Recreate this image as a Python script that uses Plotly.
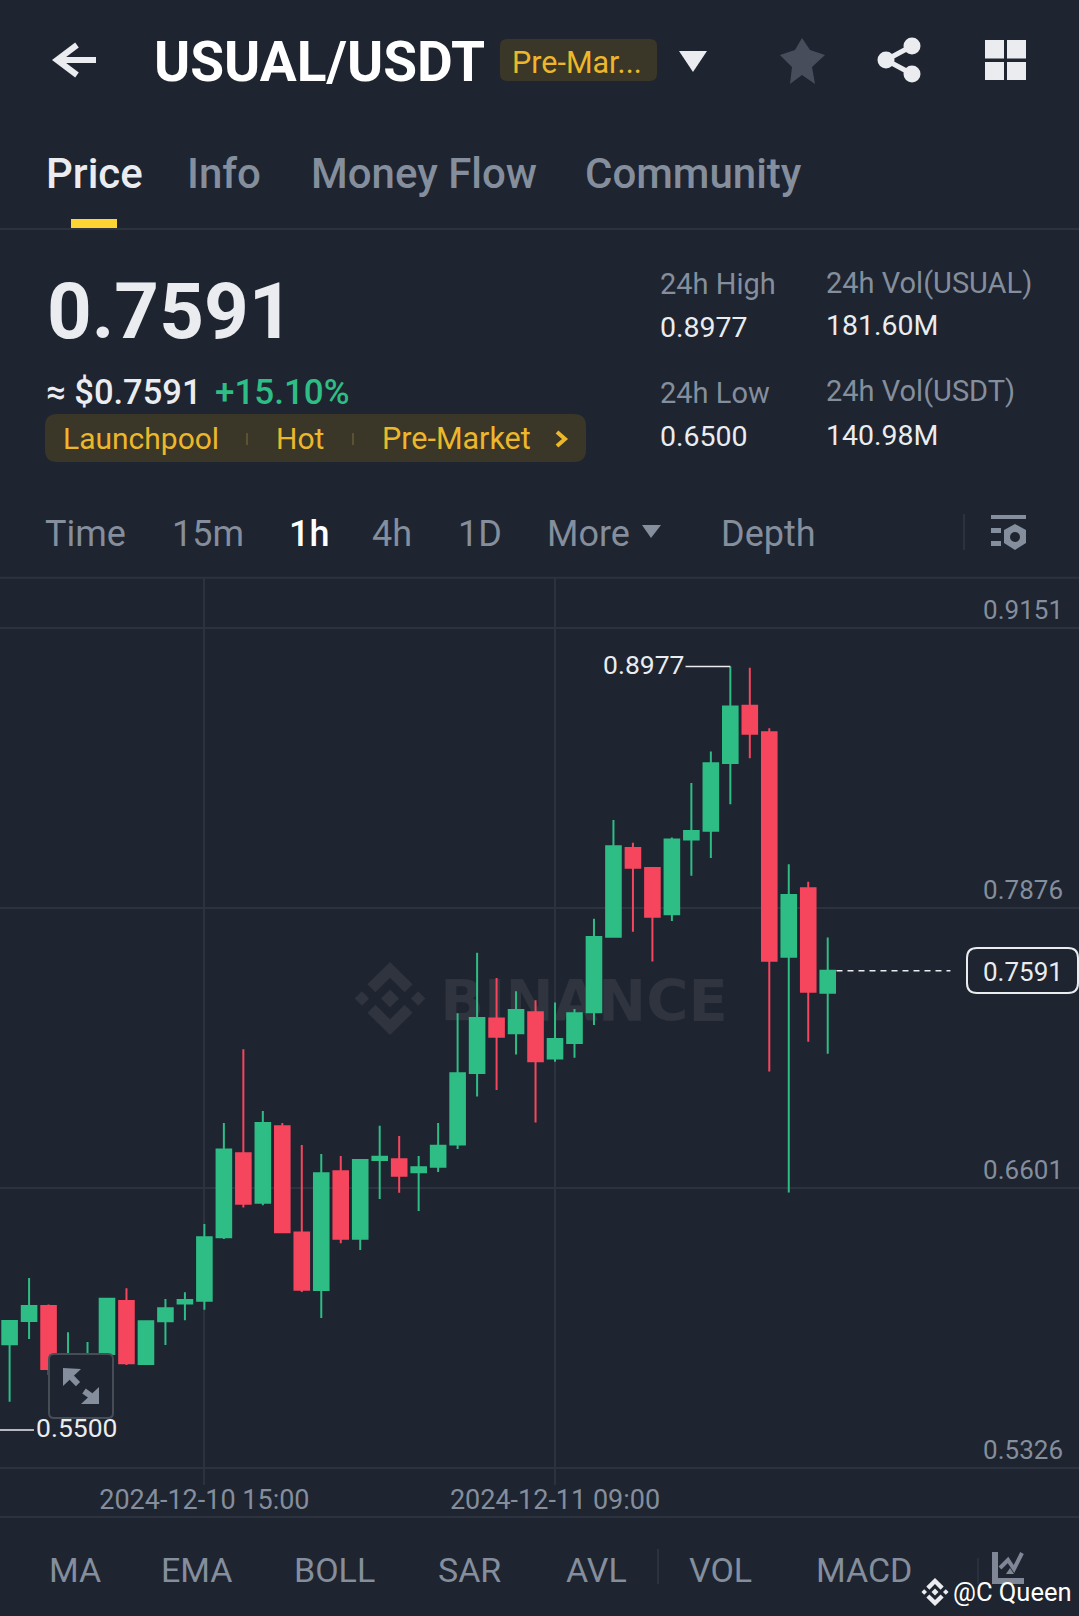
"""USUAL/USDT 1h candlestick screen."""

from datetime import datetime, timedelta

import plotly.graph_objects as go

W = 1079
H = 1616

BG = "#1E2430"
LINE = "#2D333E"
GREY = "#848E9C"
WHITE = "#EAECEF"
YELLOW = "#EDB72B"
TAG_BG = "#3A3628"
UP = "#2EBD85"
DOWN = "#F6465D"
FONT = "Roboto"

# hourly candles
first_candle = datetime(2024, 12, 10, 5, 0)
opens = [0.5891, 0.5997, 0.6065, 0.5778, 0.5783, 0.5846, 0.6088, 0.5801, 0.5995, 0.6076, 0.6089,
         0.6378, 0.6760, 0.6535, 0.6883, 0.6399, 0.6138, 0.6678, 0.6371, 0.6730, 0.6733, 0.6674,
         0.6699, 0.6800, 0.7126, 0.7374, 0.7307, 0.7402, 0.7192, 0.7263, 0.7402, 0.7746, 0.8150,
         0.8059, 0.7849, 0.8189, 0.8229, 0.8538, 0.8798, 0.8678, 0.7655, 0.7967, 0.7491]
highs = [0.6001, 0.6192, 0.6072, 0.5945, 0.5901, 0.6101, 0.6146, 0.6000, 0.6097, 0.6127, 0.6438,
         0.6898, 0.7234, 0.6953, 0.6898, 0.6798, 0.6757, 0.6748, 0.6730, 0.6886, 0.6839, 0.6748,
         0.6898, 0.7398, 0.7673, 0.7558, 0.7498, 0.7457, 0.7447, 0.7417, 0.7828, 0.8278, 0.8174,
         0.8059, 0.8198, 0.8447, 0.8590, 0.8977, 0.8971, 0.8696, 0.8076, 0.7997, 0.7743]
lows = [0.5629, 0.5915, 0.5751, 0.5660, 0.5705, 0.5835, 0.5796, 0.5798, 0.5887, 0.6000, 0.6048,
        0.6370, 0.6513, 0.6524, 0.6399, 0.6129, 0.6010, 0.6351, 0.6320, 0.6552, 0.6581, 0.6498,
        0.6675, 0.6780, 0.7019, 0.7049, 0.7210, 0.6901, 0.7177, 0.7195, 0.7345, 0.7745, 0.7769,
        0.7634, 0.7818, 0.8024, 0.8105, 0.8350, 0.8559, 0.7133, 0.6582, 0.7268, 0.7214]
closes = [0.5997, 0.6065, 0.5778, 0.5828, 0.5837, 0.6098, 0.5804, 0.5995, 0.6055, 0.6092, 0.6378,
          0.6778, 0.6531, 0.6898, 0.6401, 0.6139, 0.6669, 0.6371, 0.6730, 0.6745, 0.6658, 0.6697,
          0.6795, 0.7125, 0.7376, 0.7291, 0.7413, 0.7179, 0.7281, 0.7398, 0.7745, 0.8158, 0.8060,
          0.7837, 0.8189, 0.8228, 0.8537, 0.8795, 0.8671, 0.7637, 0.7936, 0.7496, 0.7591]

price_ticks = [0.9151, 0.7876, 0.6601, 0.5326]
price_range = [0.52497, 0.93814]
time_ticks = [datetime(2024, 12, 10, 15, 0), datetime(2024, 12, 11, 9, 0)]
time_range = [datetime(2024, 12, 10, 4, 30, 25), datetime(2024, 12, 12, 11, 54)]

high_price = 0.8977
low_price = 0.5500
last_price = 0.7591

dates = [first_candle + timedelta(hours=i) for i in range(len(opens))]

header_tabs = [("Price", 44, WHITE, 500), ("Info", 185, GREY, 500), ("Money Flow", 309, GREY, 500), ("Community", 583, GREY, 500)]
stat_labels = [("24h High", 658, 284), ("24h Low", 658, 393), ("24h Vol(USUAL)", 824, 283), ("24h Vol(USDT)", 824, 391)]
stat_values = [("0.8977", 658, 327), ("0.6500", 658, 437), ("181.60M", 824, 325), ("140.98M", 824, 435)]
periods = [("Time", 43, GREY), ("15m", 170, GREY), ("1h", 287, "#FFFFFF"), ("4h", 370, GREY), ("1D", 456, GREY), ("More", 545, GREY), ("Depth", 719, GREY)]
indicators = [("MA", 47), ("EMA", 159), ("BOLL", 292), ("SAR", 436), ("AVL", 564), ("VOL", 687), ("MACD", 814)]


def px(x):
    return x / W


def py(y):
    return 1 - y / H


annotations = []
shapes = []


def text(label, x, y, size, color=WHITE, weight=400, anchor="left"):
    annotations.append(dict(text=label, x=px(x), y=py(y), xref="paper", yref="paper", showarrow=False,
                            xanchor=anchor, yanchor="middle", align=anchor,
                            font=dict(family=FONT, size=size, color=color, weight=weight)))


def poly(points, fill=None, line=None, width=0, layer="above"):
    path = "M " + " L ".join(f"{px(x):.5f},{py(y):.5f}" for x, y in points)
    if fill:
        path += " Z"
    shapes.append(dict(type="path", path=path, xref="paper", yref="paper", layer=layer,
                       fillcolor=fill or "rgba(0,0,0,0)",
                       line=dict(color=line or "rgba(0,0,0,0)", width=width)))


def hline(x0, x1, y, color=LINE, width=2):
    shapes.append(dict(type="line", x0=px(x0), x1=px(x1), y0=py(y), y1=py(y), xref="paper", yref="paper",
                       line=dict(color=color, width=width)))


def vline(x, y0, y1, color=LINE, width=2):
    shapes.append(dict(type="line", x0=px(x), x1=px(x), y0=py(y0), y1=py(y1), xref="paper", yref="paper",
                       line=dict(color=color, width=width)))


def box(x0, y0, x1, y1, fill):
    shapes.append(dict(type="rect", x0=px(x0), x1=px(x1), y0=py(y0), y1=py(y1), xref="paper", yref="paper",
                       fillcolor=fill, line=dict(width=0)))


def dot(cx, cy, r, fill):
    shapes.append(dict(type="circle", x0=px(cx - r), x1=px(cx + r), y0=py(cy - r), y1=py(cy + r), xref="paper", yref="paper",
                       fillcolor=fill, line=dict(width=0)))


def round_box(x0, y0, x1, y1, r, fill, line=None, width=0):
    path = (f"M {px(x0 + r)},{py(y0)} L {px(x1 - r)},{py(y0)} Q {px(x1)},{py(y0)} {px(x1)},{py(y0 + r)} "
            f"L {px(x1)},{py(y1 - r)} Q {px(x1)},{py(y1)} {px(x1 - r)},{py(y1)} "
            f"L {px(x0 + r)},{py(y1)} Q {px(x0)},{py(y1)} {px(x0)},{py(y1 - r)} "
            f"L {px(x0)},{py(y0 + r)} Q {px(x0)},{py(y0)} {px(x0 + r)},{py(y0)} Z")
    shapes.append(dict(type="path", path=path, xref="paper", yref="paper", fillcolor=fill,
                       line=dict(color=line or "rgba(0,0,0,0)", width=width)))


def logo(cx, cy, r, color, layer="above"):
    # the diamond mark: centre, two sides, two chevrons
    for dx, k in [(0, 0.25), (-0.77, 0.2), (0.77, 0.2)]:
        mid = cx + dx * r
        poly([(mid, cy - k * r), (mid + k * r, cy), (mid, cy + k * r), (mid - k * r, cy)], fill=color, layer=layer)
    chevron = [(0, 1), (0.62, 0.39), (0.40, 0.17), (0, 0.57), (-0.40, 0.17), (-0.62, 0.39)]
    poly([(cx + a * r, cy - b * r) for a, b in chevron], fill=color, layer=layer)
    poly([(cx + a * r, cy + b * r) for a, b in chevron], fill=color, layer=layer)


# header
poly([(96, 60), (58, 60)], line=WHITE, width=6)
poly([(77, 45), (57, 60), (77, 75)], line=WHITE, width=6)
text("USUAL/USDT", 152, 62, 55, "#FFFFFF", 700)
round_box(500, 39, 657, 81, 7, TAG_BG)
text("Pre-Mar...", 510, 62, 30.5, YELLOW)
poly([(679, 51), (707, 51), (693, 72)], fill=WHITE)
poly([(802, 38), (810, 50), (825, 55), (812, 67), (815, 84), (802, 75), (790, 84), (792, 67), (780, 55), (795, 50)], fill="#474D5A")
poly([(912, 46), (886, 60), (912, 74)], line=WHITE, width=5)
dot(912, 46, 8.5, WHITE)
dot(886, 60, 8.5, WHITE)
dot(912, 74, 8.5, WHITE)
box(985, 40, 1004, 58.5, WHITE)
box(1007, 40, 1026, 58.5, WHITE)
box(985, 62, 1004, 80, WHITE)
box(1007, 62, 1026, 80, WHITE)

for label, x, color, weight in header_tabs:
    text(label, x, 174, 42, color, weight)
box(71, 219, 117, 228, "#FCD535")
hline(0, W, 229)

# price block
text("0.7591", 45, 311, 78, WHITE, 700)
text("≈ $0.7591", 44, 392, 34.5, WHITE, 500)
text("+15.10%", 213, 392, 35, UP, 500)
round_box(45, 414, 586, 462, 12, TAG_BG)
text("Launchpool", 61, 438, 30, YELLOW)
vline(247, 433, 445, "#5A5233")
text("Hot", 274, 438, 30, YELLOW)
vline(353, 433, 445, "#5A5233")
text("Pre-Market", 380, 438, 30.5, YELLOW)
poly([(557, 432), (565, 439), (557, 446)], line=YELLOW, width=4)
for label, x, y in stat_labels:
    text(label, x, y, 29, GREY)
for label, x, y in stat_values:
    text(label, x, y, 28.5, WHITE)

# period row
for label, x, color in periods:
    text(label, x, 534, 36, color, 500 if label == "1h" else 400)
poly([(642, 525), (661, 525), (651, 538)], fill=GREY)
vline(964, 514, 550)
box(991, 515, 1026, 519, GREY)
box(991, 528, 1001, 533, GREY)
box(991, 541, 1001, 546, GREY)
poly([(1015, 524), (1026, 530), (1026, 543), (1015, 550), (1004, 543), (1004, 530)], fill=GREY)
dot(1015, 537, 5, BG)

# chart frame
hline(0, W, 577.7)
hline(0, W, 1517)

# watermark sits under the candles
logo(390, 998.5, 36.5, "#2F343F", layer="below")
shapes.append(dict(type="rect", x0=px(443), x1=px(725), y0=py(977), y1=py(1017), xref="paper", yref="paper", layer="below",
                   fillcolor="rgba(0,0,0,0)", line=dict(width=0),
                   label=dict(text="BINANCE", textposition="middle center",
                              font=dict(family="DejaVu Sans", size=57.5, color="#2F343F", weight=700))))

# expand button
round_box(49, 1354, 113, 1418, 5, BG, line="#474D57", width=2)
poly([(63, 1368), (81, 1369), (63, 1386)], fill=GREY)
poly([(71, 1377), (78, 1384)], line=GREY, width=6)
poly([(99, 1404), (81, 1404), (99, 1387)], fill=GREY)
poly([(84, 1391), (91, 1396)], line=GREY, width=6)

# last price badge
round_box(967, 948, 1078, 993, 10, BG, line=WHITE, width=2)
text(f"{last_price:.4f}", 981, 972, 26, WHITE)

# indicator row
for label, x in indicators:
    text(label, x, 1570, 34, GREY)
vline(658, 1549, 1584)
vline(978, 1558, 1584, color="#2A303B")
poly([(995, 1552), (995, 1581), (1024, 1581)], line="#7F8796", width=6)
poly([(1000, 1568), (1008, 1560), (1014, 1569), (1022, 1553)], line="#7F8796", width=4)
poly([(1006, 1574), (1010, 1568), (1014, 1574)], fill="#7F8796")
logo(935, 1592, 14, WHITE)
text("@C Queen", 951, 1592, 25.5, "#FFFFFF")

fig = go.Figure()

fig.add_trace(go.Candlestick(
    x=dates, open=opens, high=highs, low=lows, close=closes,
    increasing=dict(line=dict(color=UP, width=2), fillcolor=UP),
    decreasing=dict(line=dict(color=DOWN, width=2), fillcolor=DOWN),
    hoverinfo="skip",
))

# high / low leaders and the last price line
high_i = highs.index(high_price)
high_label = dates[high_i] - timedelta(hours=2.3)
low_label = dates[0] + timedelta(hours=1.25)
fig.add_trace(go.Scatter(x=[high_label, dates[high_i]], y=[high_price, high_price], mode="lines",
                         line=dict(color=WHITE, width=1.5), hoverinfo="skip"))
fig.add_trace(go.Scatter(x=[time_range[0], low_label], y=[low_price, low_price], mode="lines",
                         line=dict(color=WHITE, width=1.5), hoverinfo="skip"))
fig.add_trace(go.Scatter(x=[dates[-1] + timedelta(hours=0.45), dates[-1] + timedelta(hours=6.3)], y=[last_price, last_price],
                         mode="lines", line=dict(color=WHITE, width=1.5, dash="6px,5px"), hoverinfo="skip"))

for label_x, price, anchor in [(high_label, high_price, "right"), (low_label, low_price, "left")]:
    annotations.append(dict(text=f"{price:.4f}", x=label_x, y=price, xref="x", yref="y", showarrow=False, yshift=2.5,
                            xanchor=anchor, yanchor="middle", font=dict(family=FONT, size=26.5, color=WHITE)))

fig.update_layout(
    width=W,
    height=H,
    margin=dict(l=0, r=0, t=0, b=0),
    paper_bgcolor=BG,
    plot_bgcolor=BG,
    showlegend=False,
    boxgap=0.25,
    boxgroupgap=0,
    shapes=shapes,
    annotations=annotations,
    xaxis=dict(
        domain=[0, 1], range=time_range, rangeslider=dict(visible=False), type="date",
        tickvals=time_ticks, tickformat="%Y-%m-%d %H:%M", ticks="", showline=False, zeroline=False,
        showgrid=True, gridcolor=LINE, gridwidth=2, ticklabelstandoff=-4,
        tickfont=dict(family=FONT, size=27, color=GREY),
    ),
    yaxis=dict(
        domain=[py(1485), py(577.7)], range=price_range, side="right", tickvals=price_ticks,
        tickformat=".4f", ticks="", ticklabelposition="inside top", showline=False, zeroline=False,
        showgrid=True, gridcolor=LINE, gridwidth=2, ticklabelstandoff=13,
        tickfont=dict(family=FONT, size=26, color=GREY),
    ),
)

fig.write_html("out.html", config=dict(displayModeBar=False),
               post_script="document.body.style.margin='0';document.body.style.background='" + BG + "';")
